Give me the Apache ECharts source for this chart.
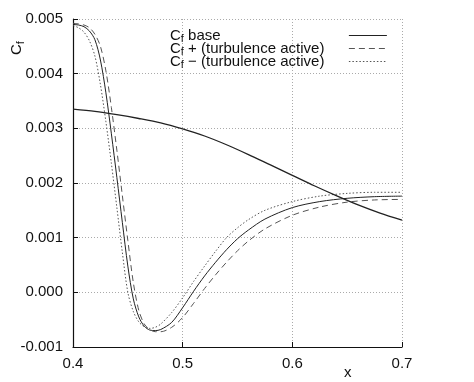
<!DOCTYPE html>
<html>
<head>
<meta charset="utf-8">
<script src="https://cdn.jsdelivr.net/npm/echarts@6/dist/echarts.min.js"></script>
<style>
html,body{margin:0;padding:0;background:#fff;}
#chart{width:474px;height:382px;}
</style>
</head>
<body>
<div id="chart"></div>
<script>
// x positions shared by the three skin-friction curves
var xs = [0.400,0.405,0.410,0.415,0.420,0.425,0.430,0.435,0.440,0.445,0.450,0.455,0.460,0.465,0.470,0.475,0.480,0.490,0.500,0.510,0.520,0.530,0.540,0.550,0.560,0.575,0.600,0.625,0.650,0.675,0.700];
var cfBase = [0.00490,0.00489,0.00486,0.00478,0.00462,0.00425,0.00365,0.00290,0.00210,0.00128,0.00048,-0.00012,-0.00045,-0.00062,-0.00069,-0.00070,-0.00068,-0.00055,-0.00028,0.00002,0.00030,0.00055,0.00078,0.00098,0.00114,0.00134,0.00155,0.00166,0.00172,0.00175,0.00176];
var cfPlus = [0.00492,0.00491,0.00489,0.00484,0.00472,0.00450,0.00405,0.00338,0.00260,0.00177,0.00095,0.00018,-0.00033,-0.00058,-0.00068,-0.00072,-0.00072,-0.00064,-0.00046,-0.00020,0.00007,0.00032,0.00055,0.00076,0.00094,0.00116,0.00141,0.00156,0.00165,0.00169,0.00170];
var cfMinus = [0.00488,0.00484,0.00476,0.00460,0.00432,0.00380,0.00312,0.00236,0.00155,0.00073,0.00000,-0.00035,-0.00054,-0.00063,-0.00066,-0.00064,-0.00058,-0.00037,-0.00010,0.00020,0.00048,0.00075,0.00100,0.00118,0.00133,0.00150,0.00166,0.00176,0.00181,0.00183,0.00183];
// second, slowly decreasing solid curve
var xs2 = [0.40,0.42,0.44,0.46,0.48,0.50,0.52,0.54,0.56,0.58,0.60,0.62,0.64,0.66,0.68,0.70];
var cfLam = [0.00335,0.00331,0.00325,0.00318,0.00310,0.00299,0.00286,0.00270,0.00252,0.00233,0.00214,0.00195,0.00177,0.00160,0.00145,0.00132];
// legend labels and tick labels
var seriesNames = ['base', '+ (turbulence active)', '\u2212 (turbulence active)'];
var xTicks = ['0.4','0.5','0.6','0.7'];
var yTicks = ['-0.001','0.000','0.001','0.002','0.003','0.004','0.005'];

function pairs(x, y){ return x.map(function(v,i){ return [v, y[i]]; }); }

var FONT = 'Liberation Sans, Arial, Helvetica, sans-serif';
var measureCtx = document.createElement('canvas').getContext('2d');
function textW(str){ measureCtx.font = '15px ' + FONT; return measureCtx.measureText(str).width; }

// rich styles for legend: C with subscript f, then name, then a spacer so line samples align
var legendRich = {
  c: {fontSize: 15, fontFamily: FONT, color: '#111'},
  s: {fontSize: 11, fontFamily: FONT, color: '#111', padding: [7,0,0,0]},
  t: {fontSize: 15, fontFamily: FONT, color: '#111'}
};
seriesNames.forEach(function(n, i){
  legendRich['p' + i] = {fontSize: 15, fontFamily: FONT, width: Math.max(1, 160 - textW(' ' + n))};
});

var chart = echarts.init(document.getElementById('chart'), null, {renderer:'canvas'});
chart.setOption({
  animation: false,
  backgroundColor: '#fff',
  grid: {left: 73, right: 72, top: 19, bottom: 35, containLabel: false},
  xAxis: {
    type: 'value', min: 0.4, max: 0.7, interval: 0.1,
    axisLine: {show: true, onZero: false, lineStyle: {color: '#111', width: 1.2}},
    axisTick: {show: true, inside: true, length: 5, lineStyle: {color: '#111'}},
    axisLabel: {margin: 9, fontSize: 15, fontFamily: FONT, color: '#111',
      formatter: function(v){ var i = Math.round((v-0.4)/0.1); return xTicks[i] || ''; }},
    splitLine: {show: true, lineStyle: {type: [1,2], color: '#aaa', width: 1}}
  },
  yAxis: {
    type: 'value', min: -0.001, max: 0.005, interval: 0.001,
    axisLine: {show: true, onZero: false, lineStyle: {color: '#111', width: 1.2}},
    axisTick: {show: true, inside: true, length: 5, lineStyle: {color: '#111'}},
    axisLabel: {margin: 10, fontSize: 15, fontFamily: FONT, color: '#111',
      formatter: function(v){ var i = Math.round((v+0.001)/0.001); return yTicks[i] || ''; }},
    splitLine: {show: true, lineStyle: {type: [1,2], color: '#aaa', width: 1}}
  },
  legend: {
    show: true, orient: 'vertical', left: 165, top: 23, align: 'right',
    itemWidth: 38, itemHeight: 10, itemGap: -3.5,
    itemStyle: {opacity: 0},
    lineStyle: {width: 1},
    data: seriesNames,
    formatter: function(name){
      return '{c|C}{s|f}{t| ' + name + '}{p' + seriesNames.indexOf(name) + '| }';
    },
    textStyle: {fontFamily: FONT, fontSize: 15, color: '#111', rich: legendRich}
  },
  graphic: [
    {type: 'text', x: 344, y: 365, style: {text: 'x', font: '15px ' + FONT, fill: '#111'}},
    {type: 'text', x: 7, y: 55, rotation: Math.PI/2,
      style: {text: '{c|C}{s|f}', fill: '#111',
        rich: {c: {fontSize: 15, fontFamily: FONT}, s: {fontSize: 11, fontFamily: FONT, padding: [8,0,0,0]}}}}
  ],
  series: [
    {name: seriesNames[0], type: 'line', data: pairs(xs, cfBase), smooth: 0.3, symbol: 'none',
      lineStyle: {color: '#222', width: 1, type: 'solid'}, itemStyle: {color: '#222'}},
    {name: seriesNames[1], type: 'line', data: pairs(xs, cfPlus), smooth: 0.3, symbol: 'none',
      lineStyle: {color: '#555', width: 1, type: [6,4]}, itemStyle: {color: '#555'}},
    {name: seriesNames[2], type: 'line', data: pairs(xs, cfMinus), smooth: 0.3, symbol: 'none',
      lineStyle: {color: '#555', width: 1, type: [1.5,2]}, itemStyle: {color: '#555'}},
    {name: 'laminar', type: 'line', data: pairs(xs2, cfLam), smooth: 0.3, symbol: 'none',
      lineStyle: {color: '#222', width: 1.3, type: 'solid'}, itemStyle: {color: '#222'}}
  ]
});
</script>
</body>
</html>
